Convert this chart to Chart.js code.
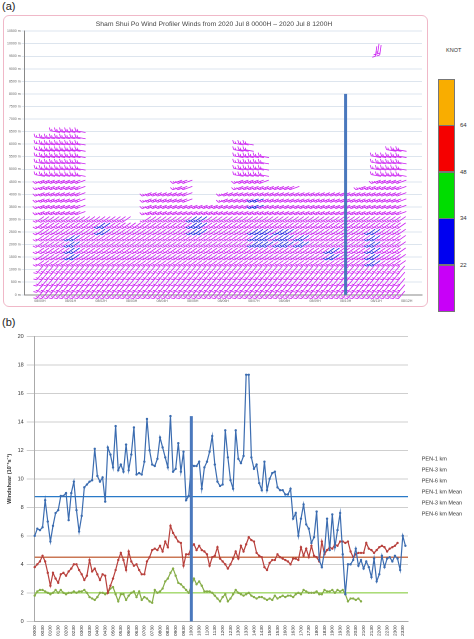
<!DOCTYPE html>
<html><head><meta charset="utf-8">
<script src="https://cdn.jsdelivr.net/npm/chart.js@4"></script>
<style>
body{margin:0;width:474px;height:639px;background:#fff;font-family:"Liberation Sans",Arial,sans-serif;position:relative;overflow:hidden}
.lab{position:absolute;font-size:11px;color:#222}
#boxA{position:absolute;left:3px;top:15px;width:425px;height:292px;border:1px solid #f0b8c8;border-radius:6px;box-sizing:border-box}
.cb{position:absolute;left:438px;width:17px;border:0.5px solid #777;box-sizing:border-box}
.cbl{position:absolute;left:460px;font-size:6px;color:#333}
canvas{display:block}
</style></head><body>
<div class="lab" style="left:2px;top:0px">(a)</div>
<div class="lab" style="left:2px;top:316px">(b)</div>
<div id="boxA"><canvas id="cA" width="423" height="290" style="width:423px;height:290px"></canvas></div>
<div class="cbl" style="left:446px;top:47px;font-size:5.5px">KNOT</div>
<div class="cb" style="top:79px;height:47px;background:#f9ad00"></div>
<div class="cb" style="top:125px;height:47px;background:#f50000"></div>
<div class="cb" style="top:172px;height:47px;background:#00dd00"></div>
<div class="cb" style="top:218px;height:47px;background:#0000f0"></div>
<div class="cb" style="top:265px;height:47px;background:#c800f8"></div>
<div class="cbl" style="top:122px">64</div>
<div class="cbl" style="top:169px">48</div>
<div class="cbl" style="top:215px">34</div>
<div class="cbl" style="top:262px">22</div>
<div style="position:absolute;left:0;top:330px;width:474px;height:309px"><canvas id="cB" width="474" height="307" style="width:474px;height:307px"></canvas></div>
<script>
// ---------- panel (a) data ----------
const hourTicks = ['08/00H','08/01H','08/02H','08/03H','08/04H','08/05H','08/06H','08/07H','08/08H','08/09H','08/10H','08/11H','08/12H'];
// top of profiler coverage (m) per half hour, 0000H..1130H
const coverTops = [6400,6500,6500,3000,3000,3000,2900,4000,4200,4500,3500,3700,4000,6200,5600,4300,4300,4200,4100,4200,4000,4300,5500,5800];
// height bands (m) and barb shaft angle (deg, clockwise from east) read from the barbs
const bandTops = [1000,3000,4500,11000];
const bandRot  = [-50,-35,-20,10];
// regions with 22-34 kt barbs: [t0,t1,h0,h1]
const blueZones = [[1.0,1.3,1500,2300],[2.0,2.3,2300,2800],[2.7,2.9,2800,2900],[5.0,5.4,2500,3000],[7.0,7.6,1800,2700],[7.0,7.3,3400,3800],[7.8,8.3,2000,2600],[8.5,8.7,2000,2300],[9.5,9.8,1500,1900],[10.7,11.0,1200,2700]];
const extraBarbs = [[11.0,9700,-82],[11.07,9800,-82],[11.14,9750,-82]];
const spikeA = {x:10, y0:0, y1:8000};

// ---------- panel (b) data ----------
const pen1 = [6.0,6.5,6.4,6.6,8.5,7.0,5.6,6.7,7.6,7.8,8.8,8.8,9.0,7.1,9.0,9.8,7.8,6.3,7.4,9.4,9.6,9.8,9.9,12.1,10.2,9.8,10.1,8.4,12.2,11.7,10.8,13.7,10.6,11.0,10.5,12.4,10.6,11.7,13.6,10.3,10.4,10.3,11.2,14.2,12.0,11.0,10.9,11.4,12.9,12.2,11.5,10.8,14.4,10.5,10.7,12.5,10.5,11.9,8.5,8.8,11.0,10.9,10.9,11.2,9.3,10.8,11.2,11.9,13.0,11.0,9.8,9.5,9.6,13.4,11.5,9.9,9.3,13.4,11.4,11.1,11.6,17.3,17.3,11.5,10.7,11.0,9.7,9.2,11.2,9.2,10.0,10.4,10.5,9.4,9.2,9.2,8.9,8.9,9.3,7.2,7.6,6.0,7.2,8.2,6.8,6.5,5.5,5.9,7.7,4.3,3.8,4.9,7.2,5.0,7.5,5.2,6.4,7.6,4.7,1.9,4.0,4.0,4.3,5.1,3.9,4.3,3.7,4.2,3.8,3.1,4.4,2.8,3.3,4.6,3.8,4.4,4.5,4.2,4.6,4.4,3.6,6.0,5.3];
const pen3 = [3.8,4.0,4.2,4.6,4.2,3.4,2.5,3.4,3.0,2.7,3.3,3.4,3.2,3.5,3.7,4.0,4.0,3.6,3.3,2.9,3.2,4.3,3.5,3.7,3.3,2.9,3.3,3.2,2.0,2.5,3.0,3.6,4.3,4.8,4.3,3.6,4.9,4.2,3.9,4.0,3.6,3.3,3.3,4.2,4.5,5.0,5.1,5.0,5.3,4.9,5.6,5.2,6.7,6.2,5.9,5.6,5.5,3.9,4.7,4.7,5.2,5.4,5.0,5.3,5.0,4.9,4.7,3.9,4.5,4.6,5.2,4.4,4.2,4.0,3.7,4.0,4.4,4.9,4.4,5.3,4.9,5.4,5.9,5.7,5.6,4.8,4.6,4.5,3.8,3.6,4.1,4.3,4.3,4.7,4.5,4.4,4.3,4.2,4.0,4.4,4.4,4.3,5.2,4.6,5.1,4.5,5.3,4.6,4.5,4.2,5.6,4.7,5.0,5.2,5.1,5.4,5.3,5.6,5.6,5.5,5.6,4.9,4.5,4.7,4.8,4.8,4.8,5.5,5.1,5.0,4.8,5.0,5.2,5.3,5.2,4.9,5.1,5.2,5.3,5.5];
const pen6 = [1.8,2.1,2.2,2.2,2.1,2.0,1.9,2.0,2.2,2.0,2.2,2.0,1.9,2.0,2.0,2.1,2.0,2.1,2.1,2.2,2.0,1.7,1.6,1.5,1.7,2.0,2.0,1.9,2.0,2.3,2.4,1.9,1.4,1.9,1.9,1.5,1.8,2.0,2.1,1.7,2.1,1.5,1.7,1.6,1.4,1.3,2.2,2.0,2.1,2.3,2.8,3.0,3.4,3.7,3.2,2.7,2.6,2.4,2.2,2.0,2.5,3.0,2.6,2.8,2.5,2.1,2.1,2.1,2.0,1.8,1.6,1.4,1.7,1.9,1.4,1.6,1.9,2.2,2.0,1.9,1.8,1.9,2.0,1.8,1.7,1.6,1.7,1.7,1.6,1.5,1.6,1.5,1.8,1.6,1.7,1.8,1.7,1.8,1.8,1.7,1.9,2.0,1.9,2.2,2.1,2.0,2.0,2.0,2.1,1.9,1.9,2.2,2.1,2.1,2.2,2.0,2.2,2.1,2.2,1.9,1.4,1.6,1.6,1.5,1.6,1.4];
const means = {pen1:8.75, pen3:4.5, pen6:2.0};
const spikeB = {label:'1000', y0:0, y1:14.4};

// ---------- barb points ----------
const pts=[],cols=[],rots=[];
for(let c=0;c<72;c++){
  const t=c/6, top=coverTops[Math.floor(c/3)];
  for(let h=0;h<=top;h+=250){
    pts.push({x:t,y:h});
    let b=0;while(h>bandTops[b])b++;
    rots.push(bandRot[b]);
    const blue=blueZones.some(z=>t>=z[0]&&t<=z[1]&&h>=z[2]&&h<=z[3]);
    cols.push(blue?'#2020e0':'#cc22f2');
  }
}
extraBarbs.forEach(e=>{pts.push({x:e[0],y:e[1]});rots.push(e[2]);cols.push('#cc22f2');});

const barbPlugin={id:'barbs',afterDatasetsDraw(ch){
  const ctx=ch.ctx, meta=ch.getDatasetMeta(0);
  ctx.save();ctx.lineWidth=0.8;
  meta.data.forEach((el,i)=>{
    ctx.save();ctx.translate(el.x,el.y);ctx.rotate(rots[i]*Math.PI/180);
    ctx.strokeStyle=cols[i];ctx.beginPath();
    ctx.moveTo(-5,0);ctx.lineTo(5,0);
    ctx.moveTo(-5,0);ctx.lineTo(-6.5,-3);
    ctx.moveTo(-3,0);ctx.lineTo(-4,-2);
    ctx.stroke();ctx.restore();
  });
  const {x,y}=ch.scales;
  ctx.strokeStyle='#4a78bd';ctx.lineWidth=3;ctx.beginPath();
  ctx.moveTo(x.getPixelForValue(spikeA.x),y.getPixelForValue(spikeA.y0));
  ctx.lineTo(x.getPixelForValue(spikeA.x),y.getPixelForValue(spikeA.y1));ctx.stroke();
  ctx.restore();
}};

new Chart(document.getElementById('cA'),{
  type:'scatter',
  data:{datasets:[{data:pts,pointRadius:0}]},
  options:{responsive:false,animation:false,devicePixelRatio:2,
    layout:{padding:{left:2,right:5,top:0,bottom:2}},
    plugins:{legend:{display:false},tooltip:{enabled:false},
      title:{display:true,text:'Sham Shui Po Wind Profiler Winds from 2020 Jul 8 0000H – 2020 Jul 8 1200H',color:'#444',font:{size:6.8,weight:'normal',family:'Liberation Sans'},padding:{top:4,bottom:3}}},
    scales:{
      x:{type:'linear',min:-0.5,max:12.5,afterBuildTicks(s){s.ticks=hourTicks.map((l,i)=>({value:i}));},
        ticks:{callback:(v)=>hourTicks[v]||'',font:{size:3.5},color:'#666',maxRotation:0,padding:1},
        grid:{display:false,drawTicks:true,tickLength:3},border:{color:'#888'}},
      y:{min:0,max:10500,ticks:{stepSize:500,callback:v=>v+' m',font:{size:3.5},color:'#666',padding:1},
        grid:{color:'#dde5ee',tickLength:3},border:{color:'#888'}}
    }},
  plugins:[barbPlugin]
});

// ---------- panel (b) ----------
const times=[];for(let h=0;h<24;h++)for(let m=0;m<60;m+=10)times.push(String(h).padStart(2,'0')+String(m).padStart(2,'0'));
const spikePluginB={id:'spB',afterDatasetsDraw(ch){const{ctx,scales:{x,y}}=ch;const px=x.getPixelForValue(times.indexOf(spikeB.label));ctx.save();ctx.strokeStyle='#4a78bd';ctx.lineWidth=3;ctx.beginPath();ctx.moveTo(px,y.getPixelForValue(spikeB.y0));ctx.lineTo(px,y.getPixelForValue(spikeB.y1));ctx.stroke();ctx.restore();}};
const cst=n=>times.map(()=>n);
const ln=(label,data,color,pr)=>({label,data,borderColor:color,backgroundColor:color,borderWidth:1.2,pointRadius:pr,pointStyle:'circle',pointBorderWidth:0});
new Chart(document.getElementById('cB'),{
  type:'line',
  data:{labels:times,datasets:[
    ln('PEN-1 km',pen1,'#3b6cb0',1.2),
    ln('PEN-3 km',pen3,'#b8403c',1.2),
    ln('PEN-6 km',pen6,'#86ad48',1.2),
    ln('PEN-1 km Mean',cst(means.pen1),'#2a7ac8',0),
    ln('PEN-3 km Mean',cst(means.pen3),'#b84a1c',0),
    ln('PEN-6 km Mean',cst(means.pen6),'#8fd14a',0)]},
  options:{responsive:false,animation:false,devicePixelRatio:2,
    layout:{padding:{left:4,right:0,top:6,bottom:0}},
    plugins:{tooltip:{enabled:false},
      legend:{position:'right',labels:{usePointStyle:true,pointStyle:'line',boxWidth:14,boxHeight:5,padding:5.5,font:{size:5.5},color:'#333'}}},
    scales:{
      x:{grid:{display:false,tickLength:3},border:{color:'#aaa'},
        ticks:{autoSkip:false,maxRotation:90,minRotation:90,font:{size:4.8},color:'#333',padding:1,
          callback:function(v){const t=times[v];return (t.endsWith('00')||t.endsWith('30'))?t:'';}}},
      y:{min:0,max:20,ticks:{stepSize:2,font:{size:5.5},color:'#333'},grid:{color:'#cfcfcf',lineWidth:1},border:{color:'#aaa'},
        title:{display:true,text:'Windshear (10⁻³s⁻¹)',font:{size:5.5,weight:'bold'},color:'#333',padding:2}}
    }},
  plugins:[spikePluginB]
});
const chB=Chart.getChart('cB');
chB.legend.fit=(function(orig){return function(){orig.call(this);this.width=Math.max(this.width,66);};})(chB.legend.fit);
chB.update();
</script></body></html>
